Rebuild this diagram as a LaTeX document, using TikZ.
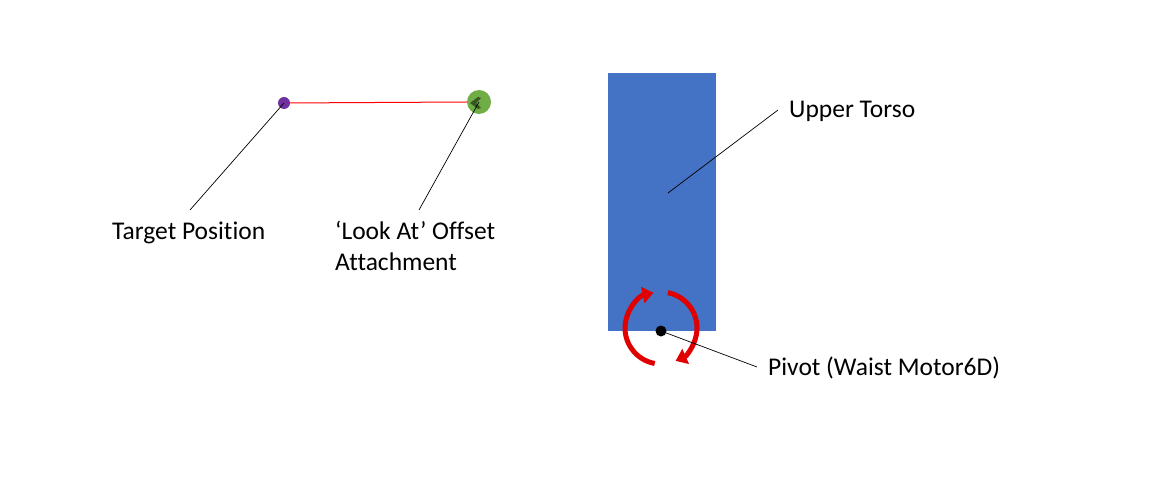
\documentclass[tikz,border=0pt]{standalone}
\usepackage{fontspec}
\setmainfont{Carlito}[Ligatures=NoCommon]
\usetikzlibrary{arrows.meta}
\definecolor{torso}{HTML}{4472C4}
\definecolor{lgreen}{HTML}{70AD47}
\definecolor{dgreen}{HTML}{375623}
\definecolor{purp}{HTML}{7030A0}
\definecolor{rred}{HTML}{E00000}
\tikzset{
  lbl/.style={font=\fontsize{25.5}{31}\selectfont, inner sep=0pt, anchor=base west, align=left},
  leader/.style={draw=black, line width=0.7pt},
  rot/.style={draw=rred, line width=5pt, -{Triangle[length=11pt,width=16pt]}},
}
\begin{document}
\begin{tikzpicture}[x=1pt,y=-1pt]
\useasboundingbox (0,0) rectangle (1159,478);
% torso
\node[fill=torso, minimum width=108pt, minimum height=258pt, inner sep=0pt, anchor=north west] (torso) at (608,73) {};
\coordinate (torsoin) at (668,193);
% target and look-at
\node[circle, fill=purp, minimum size=12pt, inner sep=0pt] (target) at (284,103) {};
\node[circle, fill=lgreen, minimum size=24pt, inner sep=0pt] (look) at (479,102) {};
\fill[dgreen] (470,103) -- (478,97) -- (481,98) -- (476,103) -- (481,108) -- (478,109) -- cycle;
\draw[red, line width=1pt] (target) -- (look.west);
% labels
\node[lbl] (ltarget) at (112,240) {Target Position};
\node[lbl] (llook) at (335,271) {‘Look At’ Offset\\Attachment};
\node[lbl] (ltorso) at (789,118) {Upper Torso};
\node[lbl] (lpivot) at (768,375) {Pivot (Waist Motor6D)};
\coordinate (ctarget) at (190,210);
\coordinate (clook) at (419,210);
\coordinate (ctorso) at (778,110);
\coordinate (cpivot) at (757,367);
\draw[leader] (ctarget) -- (target.center);
\draw[leader] (clook) -- (look.center);
\draw[leader] (torsoin) -- (ctorso);
% rotation arrows
\draw[rot] (661,328) ++(100:36) arc[start angle=100, end angle=258, radius=36];
\draw[rot] (661,328) ++(-79:36) arc[start angle=-79, end angle=66, radius=36];
% pivot
\node[circle, fill=black, minimum size=11pt, inner sep=0pt] (pivot) at (661,331) {};
\draw[leader] (pivot.center) -- (cpivot);
\end{tikzpicture}
\end{document}
